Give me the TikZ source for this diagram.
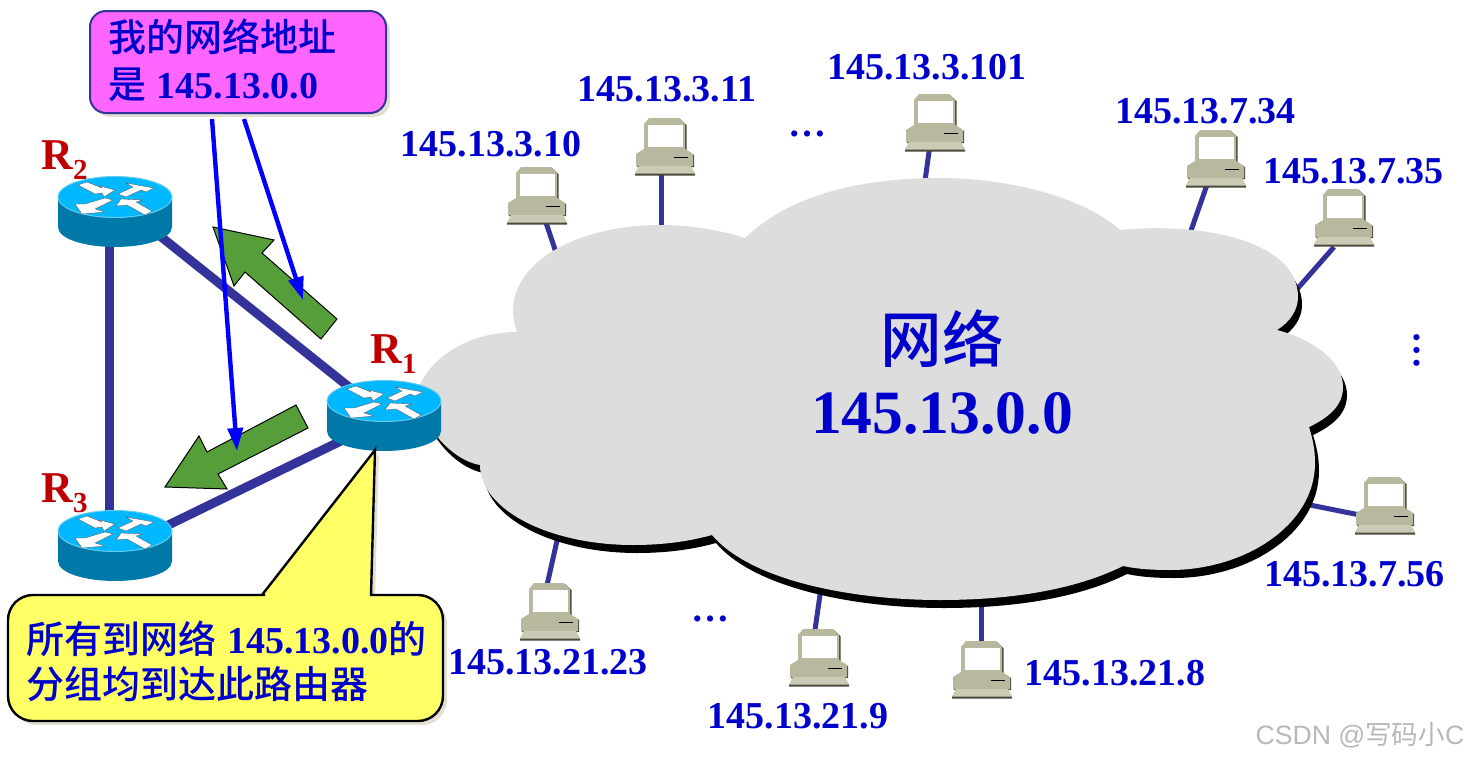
\documentclass[tikz,border=0pt]{standalone}
\usepackage{fontspec}
\setmainfont{Liberation Serif}
\newfontfamily\cjk{Noto Sans CJK SC}[BoldFont={Noto Sans CJK SC Medium}]
\newfontfamily\wmfont{Liberation Sans}
\usetikzlibrary{calc,arrows.meta}
\definecolor{txtblue}{HTML}{0000CC}
\definecolor{linkblue}{HTML}{333399}
\definecolor{rdred}{HTML}{C00000}
\definecolor{cloudgray}{HTML}{DDDDDD}
\definecolor{arrowgreen}{HTML}{559E3A}
\definecolor{shadowtan}{HTML}{E2DFD2}
\definecolor{pcbase}{HTML}{B8B89E}
\definecolor{pcfoot}{HTML}{CBCBB5}
\definecolor{pcdark}{HTML}{4A4A3C}
\definecolor{routerbody}{HTML}{0078A8}
\definecolor{routertop}{HTML}{00B8FF}
\definecolor{routerrim}{HTML}{66CCEE}
\definecolor{magcall}{HTML}{FF66FF}
\definecolor{notey}{HTML}{FFFF66}
\tikzset{
  lab/.style={anchor=base,inner sep=0pt,text=txtblue,font=\fontsize{19}{23}\selectfont\bfseries},
  bigtxt/.style={inner sep=0pt,text=txtblue,font=\fontsize{30.8}{36}\selectfont\bfseries},
  rlab/.style={anchor=base west,inner sep=0pt,text=rdred,font=\fontsize{22}{26}\selectfont\bfseries},
  routerbox/.style={minimum width=57pt,minimum height=35pt,inner sep=0pt},
  compbox/.style={minimum width=30pt,minimum height=29pt,inner sep=0pt},
  trunk/.style={draw=linkblue,line width=4.5pt},
  link/.style={draw=linkblue,line width=2.5pt},
  bigarrow/.style={fill=arrowgreen,draw=black,line width=0.5pt,line join=miter},
  blueptr/.style={draw=blue,line width=2.2pt,-{Triangle[length=11.5pt,width=7.5pt]}},
  rarrow/.style={fill=white,draw=black!70,line width=0.15pt},
  dots/.style={inner sep=0pt,text=txtblue,font=\fontsize{19}{23}\selectfont\bfseries},
  router/.pic={
    \fill[routerbody] (-57,-15) -- (-57,15) .. controls (-57,27) and (-30,35) .. (0,35) .. controls (30,35) and (57,27) .. (57,15) -- (57,-15) -- cycle;
    \draw[draw=routerrim,fill=routertop,line width=0.5pt] (0,-15) ellipse [x radius=28.5pt,y radius=10.25pt];
    \begin{scope}[shift={(0,-15)}]
      \filldraw[rarrow] (-37,-12) -- (-28,-15) -- (-13,-9) -- (-15,-11) -- (0,-7) -- (-11,0) -- (-13,-4) -- (-20,-3) -- cycle;
      \filldraw[rarrow] (3,-3) -- (18,-10) -- (11,-14) -- (39,-9) -- (31,-5) -- (26,-7) -- (11,0) -- cycle;
      \filldraw[rarrow] (-40,7) -- (-30,7) -- (-10,1) -- (-2,3) -- (-20,12) -- (-10,15) -- (-33,17) -- cycle;
      \filldraw[rarrow] (1,9) -- (6,2) -- (28,3) -- (21,5) -- (37,14) -- (30,18) -- (12,8) -- cycle;
    \end{scope}
  },
  computer/.pic={
    \fill[pcdark] (-20,-22) -- (-15,-28) -- (15,-28) -- (21.5,-22) -- (21.5,3) -- (-20,3) -- cycle;
    \fill[pcbase] (-21,-23) -- (-16,-29) -- (14,-29) -- (20,-23) -- (20,2) -- (-21,2) -- cycle;
    \fill[white] (-17,-22) rectangle (18,0);
    \fill[pcdark] (-28,8) -- (-20,3) -- (21,3) -- (29,8) -- (29,20) -- (-28,20) -- cycle;
    \fill[pcbase] (-29,7) -- (-21,2) -- (20,2) -- (28,7) -- (28,19) -- (-29,19) -- cycle;
    \draw[black,line width=0.5pt] (9,10) -- (23,10);
    \fill[pcdark] (-26,20) -- (26,20) -- (30,27) -- (30,28.5) -- (-30,28.5) -- (-30,27) -- cycle;
    \fill[pcfoot] (-26,19) -- (26,19) -- (30,26.5) -- (-30,26.5) -- cycle;
  }
}
\newcommand\cloudoutline{
  (517,332) .. controls (495,270) and (570,225) .. (660,225)
  .. controls (690,225) and (720,230) .. (745,238)
  .. controls (790,195) and (860,178) .. (940,178)
  .. controls (1010,178) and (1085,198) .. (1120,230)
  .. controls (1200,222) and (1298,240) .. (1298,297)
  .. controls (1298,310) and (1290,322) .. (1277,330)
  .. controls (1315,340) and (1343,362) .. (1343,387)
  .. controls (1343,405) and (1330,417) .. (1309,427)
  .. controls (1313,440) and (1315,450) .. (1315,463)
  .. controls (1315,525) and (1245,570) .. (1170,570)
  .. controls (1152,570) and (1137,569) .. (1123,566)
  .. controls (1075,590) and (1010,600) .. (940,600)
  .. controls (850,600) and (750,580) .. (712,535)
  .. controls (690,541) and (665,545) .. (633,545)
  .. controls (550,545) and (480,510) .. (480,465)
  .. controls (450,460) and (415,420) .. (420,385)
  .. controls (435,352) and (475,332) .. (517,332) -- cycle
}
\newcommand\noteoutline{
  (262,595) [sharp corners] -- (375,450) -- (371,595) -- (400,595)
  [rounded corners=12.5pt] -- (443,595) -- (443,721) -- (8,721) -- (8,595) -- (240,595)
  [sharp corners] -- (262,595) -- cycle
}
\newcommand\rsub[1]{\raisebox{-5pt}{\fontsize{14.5}{16}\selectfont #1}}
\begin{document}
\begin{tikzpicture}[x=0.5pt,y=-0.5pt]
\useasboundingbox (0,0) rectangle (1468,760);
% nodes that connectors need
\node[routerbox] (R2) at (115,212) {};
\node[routerbox] (R1) at (384,416) {};
\node[routerbox] (R3) at (115,546) {};
\node[compbox] (c1) at (537,196) {};
\node[compbox] (c2) at (665,147) {};
\node[compbox] (c3) at (935,123) {};
\node[compbox] (c4) at (1216,159) {};
\node[compbox] (c5) at (1344,218) {};
\node[compbox] (c6) at (1385,506) {};
\node[compbox] (c7) at (982,670) {};
\node[compbox] (c8) at (819,658) {};
\node[compbox] (c9) at (550,612) {};
\coordinate (e1) at (567,285);
\coordinate (e2) at (661,260);
\coordinate (e3) at (921,210);
\coordinate (e4) at (1180,262);
\coordinate (e5) at (1270,320);
\coordinate (e6) at (1280,499);
\coordinate (e7) at (981,580);
\coordinate (e8) at (825,560);
\coordinate (e9) at (565,505);
\coordinate (bt1) at (303,300);
\coordinate (bt2) at (237,451);
% connectors
\draw[link] (c1.center) -- (e1);
\draw[link] ($(c2.center)+(-4,0)$) -- (e2);
\draw[link] ($(c3.center)+(-2,0)$) -- (e3);
\draw[link] (c4.center) -- (e4);
\draw[link] ($(c5.center)+(-10,29)$) -- (e5);
\draw[link] ($(c6.center)+(0,14)$) -- (e6);
\draw[link] ($(c7.center)+(-1,0)$) -- (e7);
\draw[link] ($(c8.center)+(-8,0)$) -- (e8);
\draw[link] ($(c9.center)+(-9,0)$) -- (e9);
\draw[trunk] ($(R2.center)+(-6,0)$) -- ($(R3.center)+(-6,0)$);
\draw[trunk] ($(R2.center)+(0,-12)$) -- ($(R1.center)+(0,-1)$);
\draw[trunk] ($(R3.center)+(0,5)$) -- ($(R1.center)+(0,4)$);
% cloud
\begin{scope}[shift={(4,8)}]
  \fill[black] \cloudoutline;
\end{scope}
\fill[cloudgray] \cloudoutline;
\node[bigtxt] (nettitle) at (942,339) {\cjk 网络};
\node[bigtxt,anchor=base] (netaddr) at (942,433) {145.13.0.0};
% devices
\foreach \r in {R1,R2,R3} { \pic at (\r.center) {router}; }
\foreach \c in {c1,c2,c3,c4,c5,c6,c7,c8,c9} { \pic at (\c.center) {computer}; }
% labels
\node[rlab] (lr2) at (41,169) {R\rsub{2}};
\node[rlab] (lr1) at (370,363) {R\rsub{1}};
\node[rlab] (lr3) at (41,502) {R\rsub{3}};
\node[lab] (t1) at (491,156) {145.13.3.10};
\node[lab] (t2) at (667,101) {145.13.3.11};
\node[lab] (t3) at (927,79) {145.13.3.101};
\node[lab] (t4) at (1205.5,123) {145.13.7.34};
\node[lab] (t5) at (1353.5,183) {145.13.7.35};
\node[lab] (t6) at (1354.5,586) {145.13.7.56};
\node[lab] (t7) at (1115,685) {145.13.21.8};
\node[lab] (t8) at (798,728) {145.13.21.9};
\node[lab] (t9) at (548,674) {145.13.21.23};
\node[dots] (d1) at (807,134) {…};
\node[dots] (d2) at (710,619) {…};
\node[dots,rotate=90] (d3) at (1417,350) {…};
% green arrows
\path[bigarrow] (213,227) -- (274,240) -- (262,253) -- (337,319) -- (321,339) -- (245,272) -- (234,286) -- cycle;
\path[bigarrow] (165,487) -- (199,436) -- (207,452) -- (296,405) -- (308,428) -- (218,474) -- (227,489) -- cycle;
% magenta callout
\fill[shadowtan,rounded corners=8pt] (94,15) rectangle (390,117);
\node[draw=linkblue,line width=1pt,fill=magcall,rounded corners=8pt,minimum width=148pt,minimum height=51pt,inner sep=0pt] (callout) at (238,62) {};
\node[anchor=west,inner sep=0pt,align=left,text=txtblue,font=\fontsize{19}{23.5}\selectfont\bfseries] (calltext) at (108,60) {{\cjk 我的网络地址}\\{\cjk 是}\hspace{5.2pt}145.13.0.0};
\draw[blueptr] ($(callout.south)+(6,5)$) -- (bt1);
\draw[blueptr] ($(callout.south)+(-26,5)$) -- (bt2);
% yellow callout
\begin{scope}[shift={(4,4)}]
  \fill[shadowtan] \noteoutline;
\end{scope}
\path[fill=notey,draw=black,line width=1.2pt,line join=miter] \noteoutline;
\node[anchor=west,inner sep=0pt,align=left,text=txtblue,font=\fontsize{19}{22.5}\selectfont\bfseries] (note) at (26,661) {{\cjk 所有到网络}\hspace{5.5pt}145.13.0.0{\cjk 的}\\{\cjk 分组均到达此路由器}};
% watermark
\node[inner sep=0pt,text=black!28,font=\fontsize{13.3}{15}\selectfont] (wm) at (1360,735) {\wmfont CSDN @{\cjk 写码小}C};
\end{tikzpicture}
\end{document}
